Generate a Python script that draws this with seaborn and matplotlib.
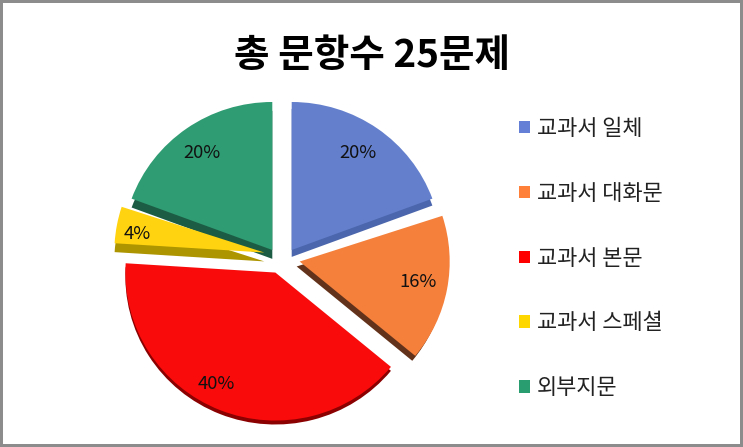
import matplotlib
matplotlib.use('Agg')
import matplotlib.pyplot as plt
import seaborn as sns

# 데이터
categories = ['교과서 일체', '교과서 대화문', '교과서 본문', '교과서 스페셜', '외부지문']
values = [20, 16, 40, 4, 20]
title = '총 문항수 25문제'

# 스타일
top_colors = ['#6480CD', '#F4803C', '#F90B0B', '#FFD30F', '#2F9C73']
side_colors = ['#4B66AC', '#63321A', '#8B0000', '#AD9500', '#1C5C44']
legend_colors = ['#6480D6', '#FF8038', '#FF0000', '#FFD700', '#2A9D70']
explode = [0.11, 0.12, 0.12, 0.12, 0.11]
depth = [7, 5, 4, 9, 9]
side_dx = [0, -3, 0, 0, 0]
nudge_y = [0, 1, 0, 5, 0]
theta_trim = [(2.3, 0), (0, 0), (0, 0), (0, 0), (0, -2.3)]
label_nudge = [(-5, 0), (-1, 2), (-14, 0), (-8, -4), (1, 0)]
tilt = 0.76

sns.set_theme(style='white')
plt.rcParams['font.family'] = ['Noto Sans CJK KR', 'DejaVu Sans']

W, H = 743, 447
fig = plt.figure(figsize=(W / 100, H / 100), dpi=100)
fig.patch.set_edgecolor('#8c8c8c')
fig.patch.set_linewidth(3)
ax = fig.add_axes([0, 0, 1, 1])

cx, cy, r = 282, 187, 150
squash = 148 / 150
pie_args = dict(startangle=90, counterclock=False, radius=r, center=(cx, cy), explode=[e * r for e in explode])

# 옆면: 어두운 파이를 아래로 밀어서 그림
side, _ = ax.pie(values, colors=sns.color_palette(side_colors), wedgeprops={'linewidth': 0}, **pie_args)
for i, w in enumerate(side):
    x, y = w.center
    w.set_center((x + side_dx[i], cy + (y - cy) * tilt - depth[i] + nudge_y[i]))
    w.set_theta1(w.theta1 + theta_trim[i][0])
    w.set_theta2(w.theta2 + theta_trim[i][1])
    w.set_zorder(1)

top, _, pct = ax.pie(values, colors=sns.color_palette(top_colors), autopct='%.0f%%', pctdistance=0.81,
                     textprops={'fontsize': 13.2, 'color': '#111111'},
                     wedgeprops={'linewidth': 0}, **pie_args)
for i, (w, t) in enumerate(zip(top, pct)):
    x, y = w.center
    new_y = cy + (y - cy) * tilt + nudge_y[i]
    tx, ty = t.get_position()
    t.set_position((tx + label_nudge[i][0], ty + new_y - y + label_nudge[i][1]))
    t.set_zorder(5)
    w.set_center((x, new_y))
    w.set_theta1(w.theta1 + theta_trim[i][0])
    w.set_theta2(w.theta2 + theta_trim[i][1])
    w.set_zorder(2)

ax.set_xlim(0, W)
ax.set_ylim(cy - cy / squash, cy + (H - cy) / squash)
ax.set_aspect('auto')

handles = [plt.Rectangle((0, 0), 1, 1, color=c, lw=0) for c in legend_colors]
ax.legend(handles, categories, loc='upper left', bbox_to_anchor=(519 / W, 1 - 118 / H), frameon=False,
          fontsize=15.8, labelcolor='#222222', labelspacing=1.95, handlelength=0.5, handleheight=0.5,
          handletextpad=0.32, borderpad=0, borderaxespad=0)

fig.text(372 / W, 1 - 56 / H, title, ha='center', va='center', fontsize=27.8, fontweight='bold', color='black')

fig.savefig('out.png', dpi=100, edgecolor=fig.get_edgecolor())
